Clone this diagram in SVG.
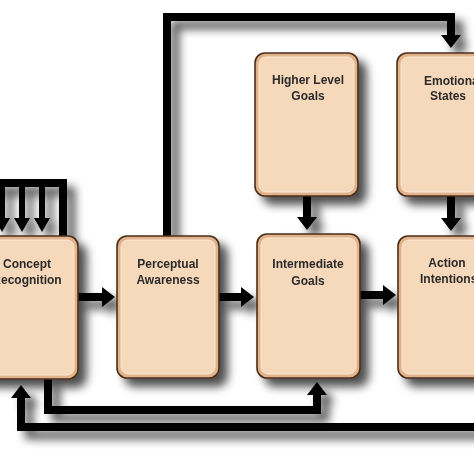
<svg xmlns="http://www.w3.org/2000/svg" width="474" height="474" viewBox="0 0 474 474">
<defs>
<filter id="shadow" x="-20%" y="-20%" width="150%" height="150%">
<feGaussianBlur in="SourceAlpha" stdDeviation="5"/>
<feOffset dx="8" dy="8" result="b"/>
<feComponentTransfer><feFuncA type="linear" slope="0.7"/></feComponentTransfer>
<feMerge><feMergeNode/><feMergeNode in="SourceGraphic"/></feMerge>
</filter>
<marker id="arrow" markerUnits="userSpaceOnUse" viewBox="0 0 13 20" markerWidth="13" markerHeight="20" refX="2" refY="10" orient="auto">
<path d="M0,0 L13,10 L0,20 Z" fill="#000"/>
</marker>
<marker id="arrowS" markerUnits="userSpaceOnUse" viewBox="0 0 14 16" markerWidth="14" markerHeight="16" refX="2" refY="8" orient="auto">
<path d="M0,0 L14,8 L0,16 Z" fill="#000"/>
</marker>
</defs>
<style>
.outer{fill:#e2b28a;stroke:#4a2e18;stroke-width:1.6}
.inner{fill:#f6d8bb;stroke:#fbe7d3;stroke-width:1}
.lbl{font-family:"Liberation Sans",Arial,sans-serif;font-weight:bold;font-size:12px;fill:#2a2a2a;text-anchor:middle}
.c{fill:none;stroke:#000;stroke-width:8;stroke-linejoin:miter}
.cs{fill:none;stroke:#000;stroke-width:6;stroke-linejoin:miter}
</style>
<rect width="474" height="474" fill="#fff"/>

<g id="connectors" filter="url(#shadow)">
<path class="c" d="M78,297 H104" marker-end="url(#arrow)"/>
<path class="c" d="M219,297 H243" marker-end="url(#arrow)"/>
<path class="c" d="M360,295 H385" marker-end="url(#arrow)"/>
<path class="c" d="M307,196 V219" marker-end="url(#arrow)"/>
<path class="c" d="M451,196 V220" marker-end="url(#arrow)"/>
<path class="c" d="M167,237 V17 H451 V37" marker-end="url(#arrow)"/>
<path class="c" d="M48,378 V410 H317 V393" marker-end="url(#arrow)"/>
<path class="c" d="M490,427 H21 V396" marker-end="url(#arrow)"/>
<path class="c" d="M63,237 V183 H-10"/>
<path class="cs" d="M42,183 V220" marker-end="url(#arrowS)"/>
<path class="cs" d="M22,183 V220" marker-end="url(#arrowS)"/>
<path class="cs" d="M2,183 V220" marker-end="url(#arrowS)"/>
</g>

<g id="concept-recognition" filter="url(#shadow)">
<rect class="outer" x="-26" y="236" width="104" height="143" rx="10"/>
<rect class="inner" x="-22" y="240" width="96" height="135" rx="7"/>
<text class="lbl" x="27" y="267.5">Concept</text>
<text class="lbl" x="27" y="283.5">Recognition</text>
</g>

<g id="perceptual-awareness" filter="url(#shadow)">
<rect class="outer" x="117" y="236" width="102" height="142" rx="10"/>
<rect class="inner" x="121" y="240" width="94" height="134" rx="7"/>
<text class="lbl" x="168" y="268">Perceptual</text>
<text class="lbl" x="168" y="284">Awareness</text>
</g>

<g id="intermediate-goals" filter="url(#shadow)">
<rect class="outer" x="257" y="234" width="103" height="144" rx="10"/>
<rect class="inner" x="261" y="238" width="95" height="136" rx="7"/>
<text class="lbl" x="308" y="268">Intermediate</text>
<text class="lbl" x="308" y="285">Goals</text>
</g>

<g id="action-intentions" filter="url(#shadow)">
<rect class="outer" x="398" y="236" width="104" height="142" rx="10"/>
<rect class="inner" x="402" y="240" width="96" height="134" rx="7"/>
<text class="lbl" x="447" y="266.5">Action</text>
<text class="lbl" x="420" y="282.5" style="text-anchor:start">Intentions</text>
</g>

<g id="higher-level-goals" filter="url(#shadow)">
<rect class="outer" x="255" y="53" width="103" height="143" rx="10"/>
<rect class="inner" x="259" y="57" width="95" height="135" rx="7"/>
<text class="lbl" x="308" y="84">Higher Level</text>
<text class="lbl" x="308" y="99.5">Goals</text>
</g>

<g id="emotional-states" filter="url(#shadow)">
<rect class="outer" x="397" y="53" width="105" height="143" rx="10"/>
<rect class="inner" x="401" y="57" width="97" height="135" rx="7"/>
<text class="lbl" x="424" y="84.5" style="text-anchor:start">Emotional</text>
<text class="lbl" x="448" y="99.5">States</text>
</g>
</svg>
